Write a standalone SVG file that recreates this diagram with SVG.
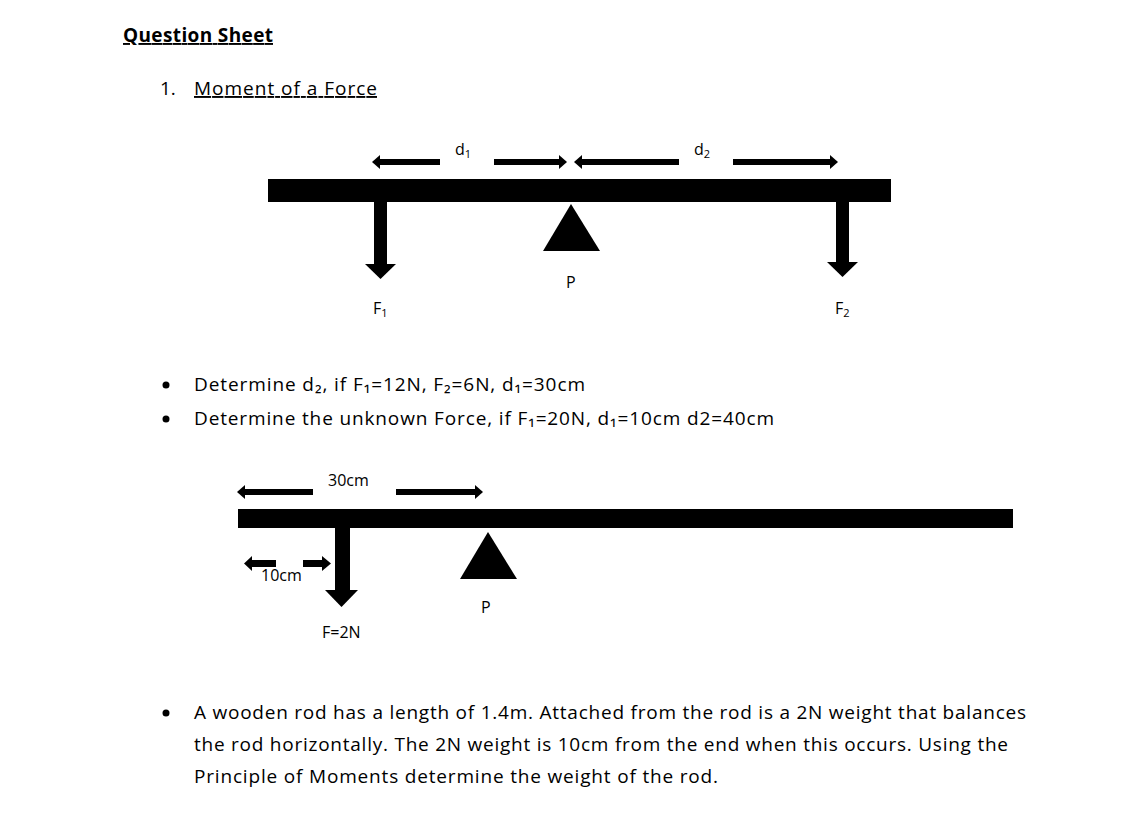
<svg xmlns="http://www.w3.org/2000/svg" width="1133" height="825" viewBox="0 0 1133 825">
<style>
text{font-family:"Open Sans","Liberation Sans",sans-serif;fill:#000}
.b{font-size:19px}
.s{font-size:16px}
.sub{font-size:11px}
</style>
<rect width="1133" height="825" fill="#fff"/>
<g id="header">
<text x="123" y="42" style="font-size:19px;font-weight:bold" textLength="150" text-decoration="underline">Question Sheet</text>
<text x="160" y="95" class="b">1.</text>
<text x="194" y="95" class="b" textLength="183" text-decoration="underline">Moment of a Force</text>
</g>
<g id="diagram1">
<rect id="beam1" x="268" y="179" width="623" height="23"/>
<polygon id="fulcrum1" points="571,204 543,251 600,251"/>
<g id="F1arrow"><rect x="374" y="202" width="13" height="63"/><polygon points="365,264 396,264 380.5,279"/></g>
<g id="F2arrow"><rect x="836" y="202" width="13" height="61"/><polygon points="827,262 858,262 842.5,277"/></g>
<g id="dimarrows1">
<rect x="378" y="159" width="62" height="6"/><polygon points="372,162 380,155 380,169"/>
<rect x="494" y="159" width="66" height="6"/><polygon points="567,162 559,155 559,169"/>
<rect x="581" y="159" width="98" height="6"/><polygon points="574,162 582,155 582,169"/>
<rect x="733" y="159" width="98" height="6"/><polygon points="838,162 830,155 830,169"/>
</g>
<text x="455" y="155" class="s">d<tspan class="sub" dy="3">1</tspan></text>
<text x="694" y="155" class="s">d<tspan class="sub" dy="3">2</tspan></text>
<text x="566" y="288" class="s">P</text>
<text x="373" y="314" class="s">F<tspan class="sub" dy="3">1</tspan></text>
<text x="835" y="314" class="s">F<tspan class="sub" dy="3">2</tspan></text>
</g>
<g id="questions1">
<circle cx="166" cy="385" r="3.5"/>
<circle cx="166" cy="419" r="3.5"/>
<text x="194" y="391" class="b" textLength="391">Determine d₂, if F₁=12N, F₂=6N, d₁=30cm</text>
<text x="194" y="425" class="b" textLength="580">Determine the unknown Force, if F₁=20N, d₁=10cm d2=40cm</text>
</g>
<g id="diagram2">
<rect id="beam2" x="238" y="509" width="775" height="19"/>
<polygon id="fulcrum2" points="488,532 460,579 517,579"/>
<g id="Farrow"><rect x="335" y="528" width="15" height="63"/><polygon points="325,590 358,590 341.5,607"/></g>
<g id="dimarrows2">
<rect x="244" y="489" width="69" height="6"/><polygon points="237,492 245,485 245,499"/>
<rect x="396" y="489" width="80" height="6"/><polygon points="483,492 475,485 475,499"/>
<rect x="251" y="560" width="25" height="7"/><polygon points="244,563.5 252,556 252,571"/>
<rect x="303" y="560" width="20" height="7"/><polygon points="331,563.5 322,556 322,571"/>
</g>
<text x="328" y="486" class="s">30cm</text>
<text x="261" y="581" class="s">10cm</text>
<text x="322" y="638" class="s">F=2N</text>
<text x="481" y="613" class="s">P</text>
</g>
<g id="question2">
<circle cx="166" cy="713" r="3.5"/>
<text x="194" y="719" class="b" textLength="832">A wooden rod has a length of 1.4m. Attached from the rod is a 2N weight that balances</text>
<text x="194" y="751" class="b" textLength="814">the rod horizontally. The 2N weight is 10cm from the end when this occurs. Using the</text>
<text x="194" y="783" class="b" textLength="524">Principle of Moments determine the weight of the rod.</text>
</g>
</svg>
